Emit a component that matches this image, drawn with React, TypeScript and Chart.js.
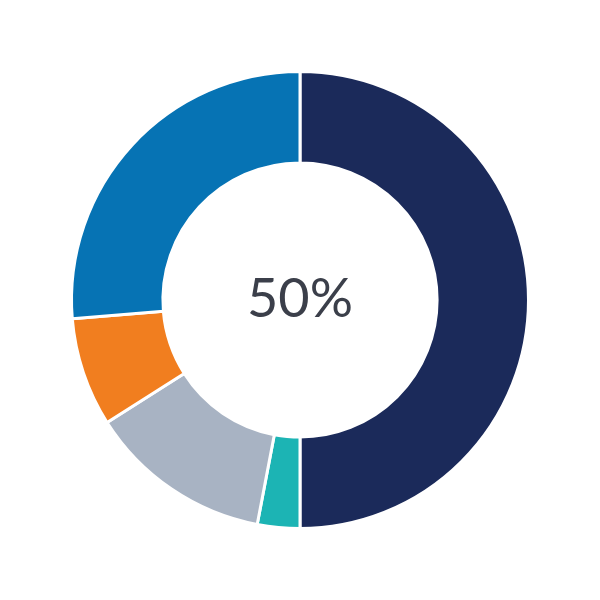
import React, { useEffect, useRef } from "react";
import { Chart, registerables } from "chart.js";

Chart.register(...registerables);

const labels = ["A", "B", "C", "D", "E"];
const values = [50, 3, 13, 7.7, 26.3];
const colors = ["#1b2a5a", "#1cb4b4", "#a8b3c3", "#f17e1f", "#0673b4"];
const centerLabel = "50%";

const centerText = {
  id: "centerText",
  afterDraw(chart: any) {
    const { ctx } = chart;
    const meta = chart.getDatasetMeta(0);
    const arc = meta.data[0];
    if (!arc) return;
    ctx.save();
    ctx.font = "54px Lato";
    ctx.fillStyle = "#3b3f4a";
    ctx.textAlign = "center";
    ctx.textBaseline = "middle";
    ctx.fillText(centerLabel, arc.x, arc.y);
    ctx.restore();
  },
};

export default function App() {
  const ref = useRef<HTMLCanvasElement>(null);
  useEffect(() => {
    if (!ref.current) return;
    const chart = new Chart(ref.current, {
      type: "doughnut",
      data: {
        labels,
        datasets: [
          {
            data: values,
            backgroundColor: colors,
            borderColor: "#ffffff",
            borderWidth: 3,
          },
        ],
      },
      options: {
        animation: false,
        responsive: false,
        cutout: "60%",
        layout: { padding: 70 },
        plugins: { legend: { display: false }, tooltip: { enabled: false } },
      },
      plugins: [centerText],
    });
    return () => chart.destroy();
  }, []);
  return (
    <div style={{ position: "fixed", left: 0, top: 0, width: 600, height: 600, background: "#fff" }}>
      <canvas ref={ref} width={600} height={600} />
    </div>
  );
}
